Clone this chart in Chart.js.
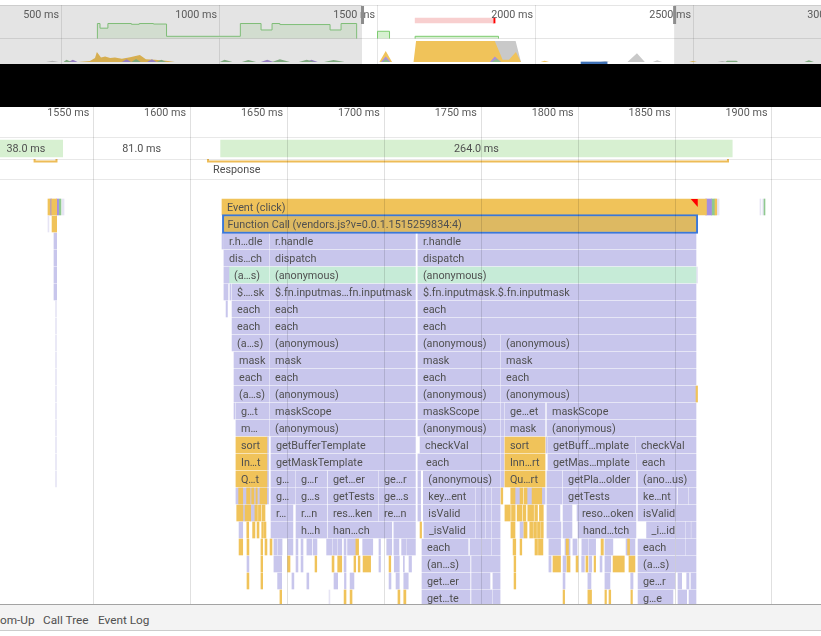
<!DOCTYPE html>
<html>
<head>
<meta charset="utf-8">
<title>Timeline</title>
<script src="https://cdn.jsdelivr.net/npm/chart.js@4"></script>
<style>
  html, body { margin: 0; padding: 0; background: #fff; overflow: hidden; }
  body { width: 821px; height: 636px; position: relative; font: 12px Roboto, sans-serif; color: #444; }
  canvas { position: absolute; left: 0; }
  #overview { top: 5px; }
  #black-band { position: absolute; left: 0; top: 64px; width: 821px; height: 43px; background: #000; }
  #flame { top: 107px; }
  #tabs { position: absolute; left: 0; top: 604px; width: 821px; height: 27px; box-sizing: border-box;
          background: #f3f3f3; border-top: 1px solid #a3a3a3; border-bottom: 1px solid #ccc; }
  #tabs span { position: absolute; top: 8px; font-size: 11.8px; color: #505050; }
</style>
</head>
<body>
<canvas id="overview" width="821" height="59"></canvas>
<div id="black-band"></div>
<canvas id="flame" width="821" height="497"></canvas>
<div id="tabs"><span style="left:0">om-Up</span><span style="left:43px">Call Tree</span><span style="left:98px">Event Log</span></div>

<script>
// Overview strip: [ms, level]
const overviewTicks = [500, 1000, 1500, 2000, 2500, 3000];
const fpsDimmed = [
  [612.6, 0], [612.6, 58], [620.9, 40], [645.9, 58], [720, 55], [745, 58], [790, 56], [831.4, 8.5], [1065, 58],
  [1130.5, 33], [1165.3, 58], [1190, 54], [1348.9, 33], [1383.7, 58], [1433, 0]
];
const fpsActive = [
  [1499, 0], [1499, 28], [1537, 0], null,
  [1618, 0], [1618, 8.5], [1881.8, 0]
];
const longTask = [[1618, 1865]];
const longTaskTip = [[1865, 1871]];
const networkBar = [[2143, 2225.6]];
const cpuGray = [
  [450, 0], [470, 6], [490, 0], [1613, 0], [1621, 0], [1870, 95], [1936, 95], [1953, 0], [2205, 0], [2219, 5], [2235, 0],
  [2290, 0], [2320, 40], [2345, 0], [2370, 0], [2384, 8], [2400, 0], [2575, 0], [2590, 5], [2605, 0]
];
const cpuYellow = [
  [551, 0], [589, 5], [605, 18], [611, 45], [624, 20], [637, 25], [653, 18], [668, 20], [690, 15], [716, 22], [747, 32],
  [766, 12], [795, 10], [836, 5], [858, 0], [1505, 0], [1525, 50], [1545, 0], [1613, 0], [1621, 95], [1870, 95],
  [1895, 10], [1915, 10], [1937, 45], [1953, 0], [2015, 0], [2028, 6], [2042, 0], [2485, 0], [2497, 5], [2510, 0]
];
const cpuPurple = [
  [520, 0], [535, 10], [550, 0], [690, 0], [705, 12], [720, 0], [770, 0], [785, 12], [800, 0], [1130, 0], [1150, 10], [1170, 0],
  [1275, 0], [1290, 10], [1310, 0], [1510, 0], [1525, 25], [1540, 0], [1855, 0], [1870, 25], [1890, 0]
];
const cpuGreen = [
  [505, 0], [515, 10], [530, 0], [720, 0], [735, 14], [750, 0], [800, 0], [815, 10], [830, 0], [1000, 0], [1015, 10], [1040, 0],
  [1070, 0], [1090, 9], [1115, 0], [1165, 0], [1190, 13], [1222, 0], [1250, 0], [1275, 10], [1300, 0], [1330, 0], [1360, 9],
  [1395, 0], [1515, 0], [1525, 14], [1537, 0], [1860, 0], [1875, 15], [1890, 0], [2600, 0], [2605, 6], [2635, 6], [2640, 0],
  [2850, 0], [2864, 8], [2880, 0]
];

// Main flame chart: [row, start ms, end ms, label]
const timeTicks = [1550, 1600, 1650, 1700, 1750, 1800, 1850, 1900];
const frameBars = [[1496, 1534, '38.0 ms'], [1615.5, 1879.5, '264.0 ms']];
const idleFrames = [[1534, 1615.5, '81.0 ms']];
const interactions = [[1519.5, 1530.8, ''], [1609, 1877.3, 'Response']];

const selectedCall = [[1, 1616.4, 1861.7, 'Function Call (vendors.js?v=0.0.1.1515259834:4)']];

const greenBars = [
  [4, 1619.8, 1640.5, '(a…s)'], [4, 1641, 1716, '(anonymous)'], [4, 1717.3, 1860.8, '(anonymous)']
];

const yellowBars = [
  [0, 1616.2, 1866.2, 'Event (click)'], [0, 1870.6, 1871.5], [0, 1526.4, 1527.5], [0, 1528.3, 1530.9], [1, 1528.5, 1530.9],
  [11, 1860.8, 1861.6],
  [14, 1623.4, 1639.4, 'sort'], [14, 1762.2, 1782.9, 'sort'],
  [15, 1623.4, 1639.4, 'In…t'], [15, 1762.2, 1782.9, 'Inn…rt'],
  [16, 1623.4, 1639.4, 'Q…t'], [16, 1762.2, 1782.9, 'Qu…rt'],
  [17, 1624.8, 1626.9], [17, 1628.9, 1630.7], [17, 1631.5, 1632.7], [17, 1633.7, 1634.4], [17, 1635.8, 1639.3],
  [17, 1760.2, 1761.1], [17, 1765.2, 1767.4], [17, 1770, 1771.4], [17, 1772, 1773.6], [17, 1776.2, 1781.2],
  [18, 1623.8, 1627], [18, 1628.1, 1631], [18, 1633.2, 1634.5], [18, 1635, 1636.2], [18, 1636.8, 1638.4],
  [18, 1762.2, 1765], [18, 1765.6, 1767.5], [18, 1768.5, 1771], [18, 1771.6, 1773], [18, 1774, 1777], [18, 1777.6, 1779], [18, 1780, 1782],
  [19, 1629, 1630], [19, 1632, 1633.2], [19, 1634.3, 1635.3], [19, 1636.7, 1637.6], [19, 1638, 1638.9], [19, 1718.4, 1719.2],
  [19, 1765.3, 1767.4], [19, 1772, 1773.6], [19, 1775, 1776.5], [19, 1777, 1778.5], [19, 1779, 1780.5], [19, 1781, 1782],
  [20, 1625, 1626.9], [20, 1629.1, 1630.1], [20, 1636.3, 1637.2], [20, 1638.4, 1639.4], [20, 1641, 1642], [20, 1685.3, 1686.7],
  [20, 1766.4, 1767.8], [20, 1770, 1770.9], [20, 1777.7, 1779], [20, 1779.5, 1781.8], [20, 1793.8, 1795], [20, 1811.8, 1813], [20, 1825.5, 1826.5],
  [21, 1636.3, 1637.2], [21, 1650.1, 1651.3], [21, 1664.2, 1665.1], [21, 1673, 1674], [21, 1675.9, 1678], [21, 1684.3, 1685.2],
  [21, 1686.5, 1687.4], [21, 1689, 1692.9], [21, 1702.4, 1703.3], [21, 1766.9, 1767.8], [21, 1787, 1790.9], [21, 1794.2, 1795.8],
  [21, 1798.9, 1799.9], [21, 1804, 1805], [21, 1808.2, 1809], [21, 1818, 1823.8], [21, 1826.2, 1829.3],
  [22, 1629.1, 1630.1], [22, 1636.3, 1637.2], [22, 1766.9, 1767.8],
  [23, 1646.1, 1647], [23, 1679.2, 1680.2], [23, 1682.3, 1683.3], [23, 1707, 1708], [23, 1710, 1711.1],
  [23, 1792.2, 1793], [23, 1805, 1806.9], [23, 1813.8, 1814.6], [23, 1815.9, 1816.8], [23, 1827.2, 1828]
];

const purpleBars = [
  [2, 1529.5, 1530.9], [3, 1529.5, 1530.9], [4, 1529.5, 1530.9], [5, 1529.5, 1530.9],
  [2, 1616.2, 1617], [2, 1617.2, 1640.5, 'r.h…dle'], [2, 1641, 1716, 'r.handle'], [2, 1717.3, 1860.8, 'r.handle'],
  [3, 1617.2, 1640.5, 'dis…ch'], [3, 1641, 1716, 'dispatch'], [3, 1717.3, 1860.8, 'dispatch'],
  [4, 1617.2, 1619.8],
  [5, 1617.2, 1619.3], [5, 1620.3, 1620.8], [5, 1621.4, 1640.5, '$….sk'], [5, 1641, 1716, '$.fn.inputmas…fn.inputmask'], [5, 1717.3, 1860.8, '$.fn.inputmask.$.fn.inputmask'],
  [6, 1618.3, 1619], [6, 1621.4, 1640.5, 'each'], [6, 1641, 1716, 'each'], [6, 1717.3, 1860.8, 'each'],
  [7, 1621.4, 1640.5, 'each'], [7, 1641, 1716, 'each'], [7, 1717.3, 1860.8, 'each'],
  [8, 1621.4, 1640.5, '(a…s)'], [8, 1641, 1716, '(anonymous)'], [8, 1717.3, 1759.7, '(anonymous)'], [8, 1760.2, 1860.8, '(anonymous)'],
  [9, 1622.4, 1640.5, 'mask'], [9, 1641, 1716, 'mask'], [9, 1717.3, 1759.7, 'mask'], [9, 1760.2, 1860.8, 'mask'],
  [10, 1622.4, 1640.5, 'each'], [10, 1641, 1716, 'each'], [10, 1717.3, 1759.7, 'each'], [10, 1760.2, 1860.8, 'each'],
  [11, 1622.4, 1640.5, '(a…s)'], [11, 1641, 1716, '(anonymous)'], [11, 1717.3, 1759.7, '(anonymous)'], [11, 1760.2, 1860.8, '(anonymous)'],
  [12, 1622.4, 1622.9], [12, 1623.4, 1640.5, 'g…t'], [12, 1641, 1716, 'maskScope'], [12, 1717.3, 1759.7, 'maskScope'], [12, 1760.2, 1761.7], [12, 1762.2, 1782.9, 'ge…et'], [12, 1783.9, 1860.8, 'maskScope'],
  [13, 1623.4, 1640.5, 'm…'], [13, 1641, 1716, '(anonymous)'], [13, 1717.3, 1759.7, '(anonymous)'], [13, 1760.2, 1761.7], [13, 1762.2, 1782.9, 'mask'], [13, 1783.9, 1860.8, '(anonymous)'],
  [14, 1639.4, 1640.2], [14, 1641.5, 1716, 'getBufferTemplate'], [14, 1718.4, 1759.7, 'checkVal'], [14, 1760.2, 1761.7], [14, 1783.4, 1784], [14, 1784.4, 1829.3, 'getBuff…mplate'], [14, 1829.8, 1860.8, 'checkVal'],
  [15, 1639.4, 1640.2], [15, 1641.5, 1716, 'getMaskTemplate'], [15, 1717.3, 1718.7], [15, 1718.9, 1759.7, 'each'], [15, 1760.2, 1761.7], [15, 1784.4, 1829.8, 'getMas…mplate'], [15, 1830.3, 1860.8, 'each'],
  [16, 1639.4, 1640.2], [16, 1641.5, 1653.9, 'g…'], [16, 1654.4, 1670.2, 'g…r'], [16, 1670.9, 1696.7, 'get…er'], [16, 1697.2, 1716, 'ge…r'], [16, 1717.3, 1718.7], [16, 1720.1, 1759.7, '(anonymous)'], [16, 1760.2, 1761.7], [16, 1783.9, 1791.6], [16, 1792.2, 1829.8, 'getPla…older'], [16, 1830.9, 1860.8, '(ano…us)'],
  [17, 1623.4, 1640.2], [17, 1641.5, 1653.9, 'g…'], [17, 1654.4, 1670.2, 'g…s'], [17, 1670.9, 1696.7, 'getTests'], [17, 1697.2, 1716, 'ge…s'], [17, 1717.3, 1718.7], [17, 1720.1, 1746.8, 'key…ent'],
  [17, 1747.3, 1752], [17, 1752.5, 1755], [17, 1755.5, 1759.7], [17, 1767.4, 1770], [17, 1773.6, 1776.2], [17, 1781.2, 1782.9], [17, 1783.9, 1791.6], [17, 1792.2, 1829.8, 'getTests'], [17, 1830.9, 1850.8, 'ke…nt'], [17, 1851.5, 1856.7], [17, 1857.2, 1860.8],
  [18, 1627, 1628.1], [18, 1631, 1633.2], [18, 1641.5, 1652.8, 'r…'], [18, 1654.4, 1670.2, 'r…n'], [18, 1670.9, 1696.7, 'res…ken'], [18, 1697.2, 1716, 're…n'], [18, 1717.3, 1718.7], [18, 1720.1, 1746.8, 'isValid'],
  [18, 1747.3, 1752], [18, 1752.5, 1755], [18, 1755.5, 1759.7], [18, 1783.9, 1790.6], [18, 1792.2, 1796.8], [18, 1799.4, 1829.8, 'reso…oken'], [18, 1830.9, 1860.8, 'isValid'],
  [19, 1625, 1626.9], [19, 1641.5, 1652.8], [19, 1654.4, 1670.2, 'h…h'], [19, 1670.9, 1703.8, 'han…ch'], [19, 1704.9, 1716], [19, 1720.4, 1746.8, '_isValid'],
  [19, 1747.3, 1752], [19, 1752.5, 1755], [19, 1755.5, 1759.7], [19, 1770, 1771.7], [19, 1783.9, 1791.1], [19, 1792.2, 1796.8], [19, 1799.9, 1829.8, 'hand…tch'], [19, 1835.3, 1850, '_i…id'], [19, 1850.5, 1855], [19, 1855.5, 1858], [19, 1858.5, 1860.8],
  [20, 1643, 1644.5], [20, 1645, 1647.2], [20, 1650.1, 1652.8], [20, 1654.4, 1655.4], [20, 1657, 1658], [20, 1660, 1662.5], [20, 1663.2, 1665.2], [20, 1670.2, 1673], [20, 1673.5, 1675.5], [20, 1676, 1678],
  [20, 1679.2, 1680.2], [20, 1681, 1685.3], [20, 1688.8, 1694], [20, 1697.2, 1698], [20, 1701.2, 1703.8], [20, 1704.9, 1707.5], [20, 1708.9, 1711], [20, 1711.5, 1716],
  [20, 1719.4, 1743.2, 'each'], [20, 1744.2, 1750], [20, 1750.5, 1755], [20, 1755.5, 1759.7], [20, 1784.9, 1790.9], [20, 1793.2, 1795.8], [20, 1797.3, 1799.4], [20, 1801.9, 1805], [20, 1805.5, 1809], [20, 1813.8, 1817.9], [20, 1824.7, 1829.3],
  [20, 1830.9, 1849.9, 'each'], [20, 1850.5, 1855], [20, 1855.5, 1860.8],
  [21, 1629.1, 1630.1], [21, 1643, 1647], [21, 1654.4, 1655.4], [21, 1657, 1658], [21, 1679.2, 1680.2], [21, 1697.2, 1698], [21, 1705.1, 1707.7], [21, 1709.8, 1710.3], [21, 1712.7, 1714],
  [21, 1719.4, 1744.2, '(an…s)'], [21, 1745, 1759.7], [21, 1784.9, 1786], [21, 1792.2, 1793.7], [21, 1801.8, 1803.2], [21, 1805.6, 1807], [21, 1811.3, 1812.3], [21, 1813.8, 1816.8],
  [21, 1830.9, 1849.9, '(a…s)'], [21, 1850.5, 1860.8],
  [22, 1644.9, 1647], [22, 1652.3, 1653.3], [22, 1660, 1661], [22, 1674, 1675.9], [22, 1679.4, 1680.2], [22, 1682.3, 1684.3], [22, 1702.4, 1703.4], [22, 1706, 1707.7], [22, 1710, 1712.3],
  [22, 1719.4, 1744.2, 'get…er'], [22, 1745, 1754.5], [22, 1756, 1759.7], [22, 1792.2, 1793.2], [22, 1805, 1806.6], [22, 1813.8, 1816.4], [22, 1827.1, 1828.3],
  [22, 1830.9, 1849.9, 'ge…r'], [22, 1851.5, 1853.4], [22, 1856, 1857.2], [22, 1858.2, 1860.8],
  [23, 1719.4, 1744.2, 'get…te'], [23, 1745, 1755.5], [23, 1756, 1759.7], [23, 1830.9, 1848.9, 'g…e'], [23, 1851.5, 1856], [23, 1857.2, 1860.8]
];

const darkPurpleBars = [[0, 1527.5, 1528.3], [0, 1530.9, 1531.9], [0, 1865.8, 1868.8]];
const darkGreenBars = [[0, 1532.2, 1533.1], [0, 1868.8, 1870.6], [0, 1895.9, 1896.4]];
const paleBars = [
  [0, 1533.6, 1534.7], [0, 1871.5, 1872.7], [0, 1893.8, 1894.3], [0, 1895.2, 1895.7], [1, 1526.4, 1526.9], [4, 1860.8, 1861.6],
  [6, 1530.3, 1530.8], [7, 1530.3, 1530.8], [8, 1530.3, 1530.8], [9, 1530.3, 1530.8], [10, 1530.3, 1530.8], [11, 1530.3, 1530.8],
  [12, 1530.3, 1530.8], [13, 1530.3, 1530.8], [14, 1530.3, 1530.8], [15, 1530.3, 1530.8], [16, 1530.3, 1530.8], [23, 1671.4, 1671.9]
];

const selection = [1450, 2437.6];

const toBars = rows => rows.map(([row, start, end, label]) => ({ x: [start, end], y: row, label }));
const toPoints = rows => rows.map(p => (p ? { x: p[0], y: p[1] } : { x: null, y: null }));
const barSet = (rows, color, extra) => Object.assign({
  type: 'bar', data: toBars(rows), backgroundColor: color, grouped: false, barThickness: 16, barPercentage: 1
}, extra);

const labelFont = '10.8px Roboto, sans-serif';

function drawTickLabels(chart, y, gap) {
  const ctx = chart.ctx;
  const scale = chart.scales.x;
  ctx.save();
  ctx.font = labelFont;
  ctx.fillStyle = '#5a5a5a';
  ctx.textAlign = 'right';
  ctx.textBaseline = 'middle';
  for (const t of scale.ticks) {
    ctx.fillText(t.value + ' ms', scale.getPixelForValue(t.value) - gap, y);
  }
  ctx.restore();
}

const overviewPlugin = {
  id: 'overviewPlugin',
  afterDatasetsDraw(chart) {
    const { ctx, chartArea, scales } = chart;
    const left = scales.x.getPixelForValue(selection[0]);
    const right = scales.x.getPixelForValue(selection[1]);
    ctx.save();
    ctx.fillStyle = 'rgba(0,0,0,0.105)';
    ctx.fillRect(0, 0, left, chartArea.bottom);
    ctx.fillRect(right, 0, chartArea.right - right, chartArea.bottom);
    ctx.fillStyle = 'rgba(0,0,0,0.1)';
    ctx.fillRect(0, 33, chartArea.right, 1);
    ctx.fillRect(0, 0, chartArea.right, 1);
    ctx.restore();
  },
  afterDraw(chart) {
    const { ctx, scales } = chart;
    drawTickLabels(chart, 10, 2.7);
    ctx.save();
    ctx.fillStyle = '#8c8c8c';
    for (const v of selection) {
      ctx.fillRect(scales.x.getPixelForValue(v) - 1, 1, 3, 18);
    }
    ctx.restore();
  }
};

const flamePlugin = {
  id: 'flamePlugin',
  afterDatasetsDraw(chart) {
    const { ctx, scales } = chart;
    ctx.save();
    ctx.fillStyle = 'rgba(0,0,0,0.09)';
    for (const row of trackLines) {
      ctx.fillRect(0, Math.round(scales.y.getPixelForValue(row)), 821, 1);
    }
    ctx.font = labelFont;
    ctx.fillStyle = '#505050';
    ctx.textBaseline = 'middle';
    chart.data.datasets.forEach((set, i) => {
      if (set.type !== 'bar') return;
      chart.getDatasetMeta(i).data.forEach((bar, j) => {
        const label = set.data[j].label;
        if (!label) return;
        if (set.centerLabels) {
          ctx.textAlign = 'center';
          ctx.fillText(label, (bar.base + bar.x) / 2, bar.y + 1);
        } else {
          ctx.textAlign = 'left';
          ctx.fillText(label, Math.min(bar.base, bar.x) + 5, bar.y + 1);
        }
      });
    });
    ctx.textAlign = 'left';
    for (const [start, , label] of interactions) {
      ctx.fillText(label, scales.x.getPixelForValue(start) + 5, scales.y.getPixelForValue(interactionLabelRow) + 1);
    }
    // long task flag on the event bar
    const right = scales.x.getPixelForValue(1861.7);
    const top = scales.y.getPixelForValue(-0.47);
    ctx.fillStyle = '#f00';
    ctx.beginPath();
    ctx.moveTo(right - 7, top);
    ctx.lineTo(right, top);
    ctx.lineTo(right, top + 8);
    ctx.fill();
    ctx.restore();
    drawTickLabels(chart, 6, 4.5);
  }
};

const trackLines = [-4.09, -2.85, -1.62];
const interactionLabelRow = -2.2;
const bracketRows = [-2.82, -2.68];
const bracketPoints = [];
for (const [start, end] of interactions) {
  bracketPoints.push([start, bracketRows[0]], [start, bracketRows[1]], [end, bracketRows[1]], [end, bracketRows[0]], null);
}

new Chart(document.getElementById('overview'), {
  type: 'line',
  data: {
    datasets: [
      { data: toPoints(cpuGray), yAxisID: 'yCpu', borderWidth: 0, pointRadius: 0, fill: 'origin', backgroundColor: '#c9c9c9', order: 5 },
      { data: toPoints(cpuYellow), yAxisID: 'yCpu', borderWidth: 0, pointRadius: 0, fill: 'origin', backgroundColor: '#f0c35a', order: 4 },
      { data: toPoints(cpuPurple), yAxisID: 'yCpu', borderWidth: 0, pointRadius: 0, fill: 'origin', backgroundColor: '#a98fdb', order: 3 },
      { data: toPoints(cpuGreen), yAxisID: 'yCpu', borderWidth: 0, pointRadius: 0, fill: 'origin', backgroundColor: '#8fbf8f', order: 2 },
      { data: toPoints(fpsDimmed), yAxisID: 'yFps', stepped: 'before', borderColor: '#8ed486', borderWidth: 1, pointRadius: 0,
        fill: 'origin', backgroundColor: '#ebf8e8', order: 6 },
      { data: toPoints(fpsActive), yAxisID: 'yFps', stepped: 'before', borderColor: '#7ccb6f', borderWidth: 1, pointRadius: 0,
        fill: 'origin', backgroundColor: '#d7f0d1', order: 6 },
      { type: 'bar', indexAxis: 'y', data: longTask.map(r => ({ x: r, y: 69.7 })), yAxisID: 'yFps', backgroundColor: '#f8cfcf', grouped: false, barThickness: 5, order: 1 },
      { type: 'bar', indexAxis: 'y', data: longTaskTip.map(r => ({ x: r, y: 69.7 })), yAxisID: 'yFps', backgroundColor: '#f00', grouped: false, barThickness: 5, order: 1 },
      { type: 'bar', indexAxis: 'y', data: networkBar.map(r => ({ x: r, y: -94.8 })), yAxisID: 'yFps', backgroundColor: '#3e70b5', grouped: false, barThickness: 2, order: 1 }
    ]
  },
  options: {
    responsive: false,
    animation: false,
    devicePixelRatio: 1,
    layout: { padding: 0 },
    plugins: { legend: { display: false }, tooltip: { enabled: false } },
    scales: {
      x: {
        type: 'linear', min: 304.4, max: 2902.4, position: 'top', offset: false,
        border: { display: false },
        ticks: { display: false, autoSkip: false },
        grid: { color: 'rgba(0,0,0,0.1)', drawTicks: false, tickLength: 0 },
        afterBuildTicks: axis => { axis.ticks = overviewTicks.map(value => ({ value })); }
      },
      yFps: { type: 'linear', display: false, offset: false, min: -98.7, max: 129.7 },
      yCpu: { type: 'linear', display: false, offset: false, min: -9.1, max: 259 }
    }
  },
  plugins: [overviewPlugin]
});

new Chart(document.getElementById('flame'), {
  type: 'bar',
  data: {
    datasets: [
      barSet(frameBars.map(f => [-3.44, f[0], f[1], f[2]]), '#d7f0d1', { barThickness: 17, centerLabels: true, order: 3 }),
      barSet(idleFrames.map(f => [-3.44, f[0], f[1], f[2]]), 'rgba(255,255,255,0)', { barThickness: 17, centerLabels: true, order: 3 }),
      barSet(yellowBars, '#f0c35a', { order: 1 }),
      barSet(purpleBars, '#c8c6ec', { order: 2 }),
      barSet(greenBars, '#c6ebd7', { order: 2 }),
      barSet(darkPurpleBars, '#a48fe0', { order: 1 }),
      barSet(darkGreenBars, '#8fc98f', { order: 1 }),
      barSet(paleBars, '#e6e4f4', { order: 2 }),
      barSet(selectedCall, '#ddb962', { barThickness: 19, borderColor: '#3a78d8', borderWidth: 2, borderSkipped: false, order: 0 }),
      { type: 'line', data: toPoints(bracketPoints), borderColor: '#edbc57', borderWidth: 2, pointRadius: 0, order: 0 }
    ]
  },
  options: {
    indexAxis: 'y',
    responsive: false,
    animation: false,
    devicePixelRatio: 1,
    layout: { padding: 0 },
    plugins: { legend: { display: false }, tooltip: { enabled: false } },
    scales: {
      x: {
        type: 'linear', min: 1501.65, max: 1925.3, position: 'top', offset: false,
        border: { display: false },
        ticks: { display: false, autoSkip: false },
        grid: { color: 'rgba(0,0,0,0.12)', z: 1, drawTicks: false, tickLength: 0 },
        afterBuildTicks: axis => { axis.ticks = timeTicks.map(value => ({ value })); }
      },
      y: { type: 'linear', display: false, offset: false, reverse: true, min: -5.882, max: 23.353 }
    }
  },
  plugins: [flamePlugin]
});
</script>
</body>
</html>
